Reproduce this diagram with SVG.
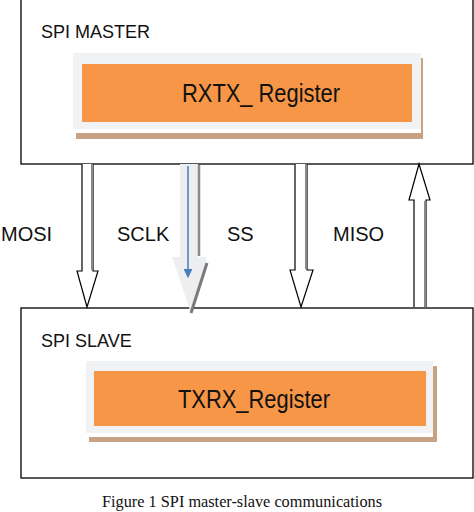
<svg xmlns="http://www.w3.org/2000/svg" width="474" height="512" viewBox="0 0 474 512">
<defs>
<style>
.box{fill:#fff;stroke:#000;stroke-width:1.3}
.lbl{font-family:"Liberation Sans",Arial,sans-serif;fill:#111}
.shadow{fill:#c9a283}
.frame{fill:#f1f2f4}
.reg{fill:#f79646}
.cap{font-family:"Liberation Serif","Times New Roman",serif;font-size:16.5px;fill:#111}
.hollow{fill:#fff;stroke:#000;stroke-width:1.2}
.edge{stroke:#8a8a8a;stroke-width:2;fill:none}
</style>
<marker id="blueHead" viewBox="0 0 10 10" refX="9" refY="5" markerWidth="6" markerHeight="6" orient="auto">
<path d="M0,0 L10,5 L0,10 z" fill="#4a7ebb"/>
</marker>
</defs>
<rect width="474" height="512" fill="#fff"/>

<g id="master">
<rect class="box" x="21" y="-2" width="452" height="166"/>
<text class="lbl" x="41" y="38" font-size="18">SPI MASTER</text>
<g id="rxtx">
<rect class="shadow" x="76" y="58" width="347" height="81"/>
<rect fill="#fff" x="73" y="53" width="348" height="80"/>
<rect class="frame" x="73" y="53" width="348" height="76"/>
<rect class="reg" x="82" y="64" width="330" height="58"/>
<text class="lbl" x="182" y="102" font-size="25" textLength="158" lengthAdjust="spacingAndGlyphs">RXTX_ Register</text>
</g>
</g>

<g id="slave">
<rect class="box" x="21" y="308" width="452" height="170"/>
<text class="lbl" x="41" y="347" font-size="18">SPI SLAVE</text>
<g id="txrx">
<rect class="shadow" x="89" y="366" width="348" height="76"/>
<rect fill="#fff" x="86" y="361" width="347" height="76"/>
<rect class="frame" x="86" y="361" width="347" height="72"/>
<rect class="reg" x="94" y="371" width="332" height="55"/>
<text class="lbl" x="178" y="408" font-size="25" textLength="152" lengthAdjust="spacingAndGlyphs">TXRX_Register</text>
</g>
</g>

<g id="connectors">
<g id="mosi">
<path class="hollow" d="M82,164 L82,271 L77,271 L87,307 L98,271 L93,271 L93,164"/>
<line class="edge" x1="92" y1="164" x2="92" y2="270"/>
</g>
<g id="sclk">
<path d="M180,164 L180,257 L172,257 L191,313 L207,257 L198,257 L198,164 z" fill="#eceef0"/>
<line x1="199" y1="165" x2="199" y2="256" stroke="#8a8a8a" stroke-width="2.5"/>
<line x1="207" y1="263" x2="191" y2="313" stroke="#7a7a7a" stroke-width="3"/>
<line x1="188" y1="166" x2="188" y2="277" stroke="#4a7ebb" stroke-width="1.5" marker-end="url(#blueHead)"/>
</g>
<g id="ss">
<path class="hollow" d="M295,164 L295,270 L290,270 L301,307 L313,270 L307,270 L307,164"/>
<line class="edge" x1="306" y1="164" x2="306" y2="269"/>
</g>
<g id="miso">
<path class="hollow" d="M414,307 L414,200 L409,200 L419,164 L430,200 L426,200 L426,307"/>
<line class="edge" x1="425" y1="201" x2="425" y2="307"/>
</g>
</g>

<g id="labels">
<text class="lbl" x="1" y="241" font-size="20">MOSI</text>
<text class="lbl" x="117" y="241" font-size="20">SCLK</text>
<text class="lbl" x="227" y="241" font-size="20">SS</text>
<text class="lbl" x="333" y="241" font-size="20">MISO</text>
</g>

<text class="cap" x="102" y="507" textLength="280" lengthAdjust="spacingAndGlyphs">Figure 1 SPI master-slave communications</text>
</svg>
